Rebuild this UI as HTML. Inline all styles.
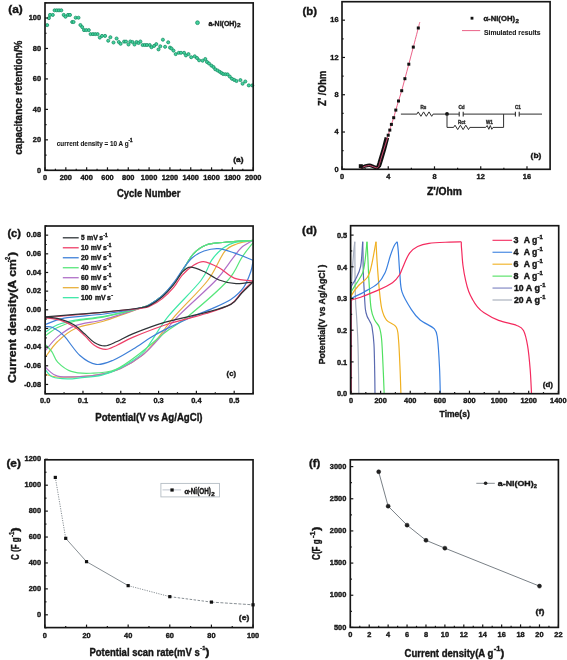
<!DOCTYPE html><html><head><meta charset="utf-8"><style>html,body{margin:0;padding:0;background:#fff;width:567px;height:660px;overflow:hidden}svg{display:block;will-change:transform}text{font-family:"Liberation Sans",sans-serif}</style></head><body>
<svg width="567" height="660" viewBox="0 0 567 660">
<rect width="567" height="660" fill="#fff"/>
<g fill="#44d29c" stroke="#138a62" stroke-width="0.75">
<circle cx="47.2" cy="25.1" r="1.55"/>
<circle cx="48.9" cy="18.1" r="1.55"/>
<circle cx="50" cy="14.9" r="1.55"/>
<circle cx="52.8" cy="14.9" r="1.55"/>
<circle cx="54.6" cy="10.3" r="1.55"/>
<circle cx="56.8" cy="10.3" r="1.55"/>
<circle cx="59" cy="10.3" r="1.55"/>
<circle cx="61.3" cy="10.3" r="1.55"/>
<circle cx="63.7" cy="14.9" r="1.55"/>
<circle cx="65.5" cy="16.7" r="1.55"/>
<circle cx="68" cy="14.9" r="1.55"/>
<circle cx="70" cy="14.9" r="1.55"/>
<circle cx="72.2" cy="22" r="1.55"/>
<circle cx="73.6" cy="22" r="1.55"/>
<circle cx="75.7" cy="17.7" r="1.55"/>
<circle cx="78.5" cy="17.7" r="1.55"/>
<circle cx="80.4" cy="25" r="1.55"/>
<circle cx="82.2" cy="27.1" r="1.55"/>
<circle cx="84" cy="30.1" r="1.55"/>
<circle cx="86.3" cy="30.1" r="1.55"/>
<circle cx="88.8" cy="30.1" r="1.55"/>
<circle cx="90.6" cy="34.1" r="1.55"/>
<circle cx="93" cy="34.1" r="1.55"/>
<circle cx="95.3" cy="34.1" r="1.55"/>
<circle cx="97.6" cy="34.1" r="1.55"/>
<circle cx="99.8" cy="37.6" r="1.55"/>
<circle cx="102" cy="35.9" r="1.55"/>
<circle cx="105.1" cy="35.9" r="1.55"/>
<circle cx="108.2" cy="40.7" r="1.55"/>
<circle cx="110.4" cy="37.2" r="1.55"/>
<circle cx="113.5" cy="42.5" r="1.55"/>
<circle cx="116.6" cy="38.5" r="1.55"/>
<circle cx="118.8" cy="42" r="1.55"/>
<circle cx="120.6" cy="43.8" r="1.55"/>
<circle cx="124.1" cy="41.6" r="1.55"/>
<circle cx="126" cy="41.6" r="1.55"/>
<circle cx="128.5" cy="44.5" r="1.55"/>
<circle cx="130.3" cy="41.5" r="1.55"/>
<circle cx="132.5" cy="42" r="1.55"/>
<circle cx="134.5" cy="44.5" r="1.55"/>
<circle cx="136.5" cy="42" r="1.55"/>
<circle cx="138.5" cy="43" r="1.55"/>
<circle cx="140.4" cy="41.5" r="1.55"/>
<circle cx="142.6" cy="45" r="1.55"/>
<circle cx="144.8" cy="45" r="1.55"/>
<circle cx="147" cy="45" r="1.55"/>
<circle cx="149.7" cy="45" r="1.55"/>
<circle cx="151.5" cy="47.2" r="1.55"/>
<circle cx="154.1" cy="45.9" r="1.55"/>
<circle cx="156.3" cy="44.1" r="1.55"/>
<circle cx="158.5" cy="49.4" r="1.55"/>
<circle cx="160.3" cy="46.3" r="1.55"/>
<circle cx="162.9" cy="39.7" r="1.55"/>
<circle cx="165.1" cy="46.8" r="1.55"/>
<circle cx="168.2" cy="42.3" r="1.55"/>
<circle cx="170" cy="47.6" r="1.55"/>
<circle cx="171.5" cy="48.5" r="1.55"/>
<circle cx="173.5" cy="50.6" r="1.55"/>
<circle cx="175.7" cy="54.1" r="1.55"/>
<circle cx="178.8" cy="52.8" r="1.55"/>
<circle cx="181" cy="52.8" r="1.55"/>
<circle cx="184.1" cy="52.8" r="1.55"/>
<circle cx="185.9" cy="55.4" r="1.55"/>
<circle cx="188.5" cy="54.1" r="1.55"/>
<circle cx="191.2" cy="57.2" r="1.55"/>
<circle cx="194.7" cy="56.3" r="1.55"/>
<circle cx="197" cy="58" r="1.55"/>
<circle cx="199.1" cy="60.3" r="1.55"/>
<circle cx="202.6" cy="60.7" r="1.55"/>
<circle cx="205.3" cy="59" r="1.55"/>
<circle cx="207" cy="62" r="1.55"/>
<circle cx="209" cy="63.5" r="1.55"/>
<circle cx="211.4" cy="65.6" r="1.55"/>
<circle cx="213.5" cy="67" r="1.55"/>
<circle cx="215.3" cy="69.3" r="1.55"/>
<circle cx="217.6" cy="70.5" r="1.55"/>
<circle cx="219.7" cy="71.8" r="1.55"/>
<circle cx="221.5" cy="73" r="1.55"/>
<circle cx="223.2" cy="74" r="1.55"/>
<circle cx="225.5" cy="74.2" r="1.55"/>
<circle cx="227.6" cy="74.4" r="1.55"/>
<circle cx="229.8" cy="76.6" r="1.55"/>
<circle cx="232" cy="78.8" r="1.55"/>
<circle cx="234.25" cy="79.9" r="1.55"/>
<circle cx="236.5" cy="81" r="1.55"/>
<circle cx="240.4" cy="80.1" r="1.55"/>
<circle cx="242.6" cy="83.7" r="1.55"/>
<circle cx="245.3" cy="81.5" r="1.55"/>
<circle cx="248.8" cy="85.4" r="1.55"/>
<circle cx="252.3" cy="85.4" r="1.55"/>
</g>
<rect x="45" y="2.9" width="208.2" height="167.4" fill="none" stroke="#161616" stroke-width="1.65"/>
<line x1="45" y1="170.3" x2="48" y2="170.3" stroke="#161616" stroke-width="1.2"/>
<line x1="45" y1="139.84" x2="48" y2="139.84" stroke="#161616" stroke-width="1.2"/>
<line x1="45" y1="109.38" x2="48" y2="109.38" stroke="#161616" stroke-width="1.2"/>
<line x1="45" y1="78.92" x2="48" y2="78.92" stroke="#161616" stroke-width="1.2"/>
<line x1="45" y1="48.46" x2="48" y2="48.46" stroke="#161616" stroke-width="1.2"/>
<line x1="45" y1="18" x2="48" y2="18" stroke="#161616" stroke-width="1.2"/>
<line x1="45" y1="155.07" x2="46.6" y2="155.07" stroke="#161616" stroke-width="1.2"/>
<line x1="45" y1="124.61" x2="46.6" y2="124.61" stroke="#161616" stroke-width="1.2"/>
<line x1="45" y1="94.15" x2="46.6" y2="94.15" stroke="#161616" stroke-width="1.2"/>
<line x1="45" y1="63.69" x2="46.6" y2="63.69" stroke="#161616" stroke-width="1.2"/>
<line x1="45" y1="33.23" x2="46.6" y2="33.23" stroke="#161616" stroke-width="1.2"/>
<line x1="45" y1="2.77" x2="46.6" y2="2.77" stroke="#161616" stroke-width="1.2"/>
<text x="41" y="172.5" font-size="7.4" font-weight="bold" text-anchor="end" fill="#161616" stroke="#161616" stroke-width="0.38">0</text>
<text x="41" y="142.04" font-size="7.4" font-weight="bold" text-anchor="end" fill="#161616" stroke="#161616" stroke-width="0.38">20</text>
<text x="41" y="111.58" font-size="7.4" font-weight="bold" text-anchor="end" fill="#161616" stroke="#161616" stroke-width="0.38">40</text>
<text x="41" y="81.12" font-size="7.4" font-weight="bold" text-anchor="end" fill="#161616" stroke="#161616" stroke-width="0.38">60</text>
<text x="41" y="50.66" font-size="7.4" font-weight="bold" text-anchor="end" fill="#161616" stroke="#161616" stroke-width="0.38">80</text>
<text x="41" y="20.2" font-size="7.4" font-weight="bold" text-anchor="end" fill="#161616" stroke="#161616" stroke-width="0.38">100</text>
<line x1="45" y1="170.3" x2="45" y2="167.3" stroke="#161616" stroke-width="1.2"/>
<line x1="65.82" y1="170.3" x2="65.82" y2="167.3" stroke="#161616" stroke-width="1.2"/>
<line x1="86.64" y1="170.3" x2="86.64" y2="167.3" stroke="#161616" stroke-width="1.2"/>
<line x1="107.46" y1="170.3" x2="107.46" y2="167.3" stroke="#161616" stroke-width="1.2"/>
<line x1="128.28" y1="170.3" x2="128.28" y2="167.3" stroke="#161616" stroke-width="1.2"/>
<line x1="149.1" y1="170.3" x2="149.1" y2="167.3" stroke="#161616" stroke-width="1.2"/>
<line x1="169.92" y1="170.3" x2="169.92" y2="167.3" stroke="#161616" stroke-width="1.2"/>
<line x1="190.74" y1="170.3" x2="190.74" y2="167.3" stroke="#161616" stroke-width="1.2"/>
<line x1="211.56" y1="170.3" x2="211.56" y2="167.3" stroke="#161616" stroke-width="1.2"/>
<line x1="232.38" y1="170.3" x2="232.38" y2="167.3" stroke="#161616" stroke-width="1.2"/>
<line x1="253.2" y1="170.3" x2="253.2" y2="167.3" stroke="#161616" stroke-width="1.2"/>
<line x1="55.41" y1="170.3" x2="55.41" y2="168.7" stroke="#161616" stroke-width="1.2"/>
<line x1="76.23" y1="170.3" x2="76.23" y2="168.7" stroke="#161616" stroke-width="1.2"/>
<line x1="97.05" y1="170.3" x2="97.05" y2="168.7" stroke="#161616" stroke-width="1.2"/>
<line x1="117.87" y1="170.3" x2="117.87" y2="168.7" stroke="#161616" stroke-width="1.2"/>
<line x1="138.69" y1="170.3" x2="138.69" y2="168.7" stroke="#161616" stroke-width="1.2"/>
<line x1="159.51" y1="170.3" x2="159.51" y2="168.7" stroke="#161616" stroke-width="1.2"/>
<line x1="180.33" y1="170.3" x2="180.33" y2="168.7" stroke="#161616" stroke-width="1.2"/>
<line x1="201.15" y1="170.3" x2="201.15" y2="168.7" stroke="#161616" stroke-width="1.2"/>
<line x1="221.97" y1="170.3" x2="221.97" y2="168.7" stroke="#161616" stroke-width="1.2"/>
<line x1="242.79" y1="170.3" x2="242.79" y2="168.7" stroke="#161616" stroke-width="1.2"/>
<text x="45" y="180.1" font-size="7.4" font-weight="bold" text-anchor="middle" fill="#161616" stroke="#161616" stroke-width="0.38">0</text>
<text x="65.82" y="180.1" font-size="7.4" font-weight="bold" text-anchor="middle" fill="#161616" stroke="#161616" stroke-width="0.38">200</text>
<text x="86.64" y="180.1" font-size="7.4" font-weight="bold" text-anchor="middle" fill="#161616" stroke="#161616" stroke-width="0.38">400</text>
<text x="107.46" y="180.1" font-size="7.4" font-weight="bold" text-anchor="middle" fill="#161616" stroke="#161616" stroke-width="0.38">600</text>
<text x="128.28" y="180.1" font-size="7.4" font-weight="bold" text-anchor="middle" fill="#161616" stroke="#161616" stroke-width="0.38">800</text>
<text x="149.1" y="180.1" font-size="7.4" font-weight="bold" text-anchor="middle" fill="#161616" stroke="#161616" stroke-width="0.38">1000</text>
<text x="169.92" y="180.1" font-size="7.4" font-weight="bold" text-anchor="middle" fill="#161616" stroke="#161616" stroke-width="0.38">1200</text>
<text x="190.74" y="180.1" font-size="7.4" font-weight="bold" text-anchor="middle" fill="#161616" stroke="#161616" stroke-width="0.38">1400</text>
<text x="211.56" y="180.1" font-size="7.4" font-weight="bold" text-anchor="middle" fill="#161616" stroke="#161616" stroke-width="0.38">1600</text>
<text x="232.38" y="180.1" font-size="7.4" font-weight="bold" text-anchor="middle" fill="#161616" stroke="#161616" stroke-width="0.38">1800</text>
<text x="253.2" y="180.1" font-size="7.4" font-weight="bold" text-anchor="middle" fill="#161616" stroke="#161616" stroke-width="0.38">2000</text>
<text x="8.2" y="12.5" font-size="11.1" font-weight="bold" text-anchor="start" fill="#161616" stroke="#161616" stroke-width="0.38" textLength="14.5" lengthAdjust="spacingAndGlyphs">(a)</text>
<g transform="translate(22.4,154.7) rotate(-90)">
<text x="0" y="0" font-size="10.3" font-weight="bold" fill="#161616" stroke="#161616" stroke-width="0.35" textLength="114" lengthAdjust="spacingAndGlyphs">capacitance retention/%</text>
</g>
<text x="117" y="196.6" font-size="10" font-weight="bold" text-anchor="start" fill="#161616" stroke="#161616" stroke-width="0.38" textLength="63.5" lengthAdjust="spacingAndGlyphs">Cycle Number</text>
<circle cx="197.5" cy="22.7" r="1.9" fill="#44d29c" stroke="#138a62" stroke-width="0.75"/>
<text x="208.4" y="25.8" font-size="7.8" font-weight="bold" text-anchor="start" fill="#161616" stroke="#161616" stroke-width="0.38" textLength="28.3" lengthAdjust="spacingAndGlyphs">a-Ni(OH)</text>
<text x="236.9" y="27.4" font-size="5.8" font-weight="bold" text-anchor="start" fill="#161616" stroke="#161616" stroke-width="0.38" textLength="3.6" lengthAdjust="spacingAndGlyphs">2</text>
<text x="56.8" y="146.4" font-size="6.9" font-weight="bold" text-anchor="start" fill="#161616" stroke="#161616" stroke-width="0.1" textLength="71.8" lengthAdjust="spacingAndGlyphs">current density = 10 A g</text>
<text x="128.5" y="142.4" font-size="4.8" font-weight="bold" text-anchor="start" fill="#161616" stroke="#161616" stroke-width="0.38" textLength="3.9" lengthAdjust="spacingAndGlyphs">-1</text>
<text x="233.3" y="161.8" font-size="7.4" font-weight="bold" text-anchor="start" fill="#161616" stroke="#161616" stroke-width="0.38" textLength="10.2" lengthAdjust="spacingAndGlyphs">(a)</text>
<rect x="342" y="1.7" width="208.1" height="167.6" fill="none" stroke="#161616" stroke-width="1.65"/>
<line x1="342" y1="169.3" x2="345" y2="169.3" stroke="#161616" stroke-width="1.2"/>
<line x1="342" y1="132.02" x2="345" y2="132.02" stroke="#161616" stroke-width="1.2"/>
<line x1="342" y1="94.74" x2="345" y2="94.74" stroke="#161616" stroke-width="1.2"/>
<line x1="342" y1="57.46" x2="345" y2="57.46" stroke="#161616" stroke-width="1.2"/>
<line x1="342" y1="20.18" x2="345" y2="20.18" stroke="#161616" stroke-width="1.2"/>
<line x1="342" y1="150.66" x2="343.6" y2="150.66" stroke="#161616" stroke-width="1.2"/>
<line x1="342" y1="113.38" x2="343.6" y2="113.38" stroke="#161616" stroke-width="1.2"/>
<line x1="342" y1="76.1" x2="343.6" y2="76.1" stroke="#161616" stroke-width="1.2"/>
<line x1="342" y1="38.82" x2="343.6" y2="38.82" stroke="#161616" stroke-width="1.2"/>
<text x="338.6" y="171.5" font-size="7.4" font-weight="bold" text-anchor="end" fill="#161616" stroke="#161616" stroke-width="0.38">0</text>
<text x="338.6" y="134.22" font-size="7.4" font-weight="bold" text-anchor="end" fill="#161616" stroke="#161616" stroke-width="0.38">4</text>
<text x="338.6" y="96.94" font-size="7.4" font-weight="bold" text-anchor="end" fill="#161616" stroke="#161616" stroke-width="0.38">8</text>
<text x="338.6" y="59.66" font-size="7.4" font-weight="bold" text-anchor="end" fill="#161616" stroke="#161616" stroke-width="0.38">12</text>
<text x="338.6" y="22.38" font-size="7.4" font-weight="bold" text-anchor="end" fill="#161616" stroke="#161616" stroke-width="0.38">16</text>
<line x1="342" y1="169.3" x2="342" y2="166.3" stroke="#161616" stroke-width="1.2"/>
<line x1="388.24" y1="169.3" x2="388.24" y2="166.3" stroke="#161616" stroke-width="1.2"/>
<line x1="434.49" y1="169.3" x2="434.49" y2="166.3" stroke="#161616" stroke-width="1.2"/>
<line x1="480.73" y1="169.3" x2="480.73" y2="166.3" stroke="#161616" stroke-width="1.2"/>
<line x1="526.98" y1="169.3" x2="526.98" y2="166.3" stroke="#161616" stroke-width="1.2"/>
<line x1="365.12" y1="169.3" x2="365.12" y2="167.7" stroke="#161616" stroke-width="1.2"/>
<line x1="411.37" y1="169.3" x2="411.37" y2="167.7" stroke="#161616" stroke-width="1.2"/>
<line x1="457.61" y1="169.3" x2="457.61" y2="167.7" stroke="#161616" stroke-width="1.2"/>
<line x1="503.85" y1="169.3" x2="503.85" y2="167.7" stroke="#161616" stroke-width="1.2"/>
<text x="342" y="178.6" font-size="7.4" font-weight="bold" text-anchor="middle" fill="#161616" stroke="#161616" stroke-width="0.38">0</text>
<text x="388.24" y="178.6" font-size="7.4" font-weight="bold" text-anchor="middle" fill="#161616" stroke="#161616" stroke-width="0.38">4</text>
<text x="434.49" y="178.6" font-size="7.4" font-weight="bold" text-anchor="middle" fill="#161616" stroke="#161616" stroke-width="0.38">8</text>
<text x="480.73" y="178.6" font-size="7.4" font-weight="bold" text-anchor="middle" fill="#161616" stroke="#161616" stroke-width="0.38">12</text>
<text x="526.98" y="178.6" font-size="7.4" font-weight="bold" text-anchor="middle" fill="#161616" stroke="#161616" stroke-width="0.38">16</text>
<text x="302.6" y="15.4" font-size="11.1" font-weight="bold" text-anchor="start" fill="#161616" stroke="#161616" stroke-width="0.38" textLength="14.5" lengthAdjust="spacingAndGlyphs">(b)</text>
<g transform="translate(326,105.9) rotate(-90)">
<text x="0" y="0" font-size="10.5" font-weight="bold" fill="#161616" stroke="#161616" stroke-width="0.35" textLength="35.1" lengthAdjust="spacingAndGlyphs">Z' /Ohm</text>
</g>
<text x="427" y="194.9" font-size="10" font-weight="bold" text-anchor="start" fill="#161616" stroke="#161616" stroke-width="0.38" textLength="35" lengthAdjust="spacingAndGlyphs">Z'/Ohm</text>
<text x="530.6" y="158.4" font-size="7.8" font-weight="bold" text-anchor="start" fill="#161616" stroke="#161616" stroke-width="0.38" textLength="10.8" lengthAdjust="spacingAndGlyphs">(b)</text>
<path d="M386.9,137.6 L384,149 L381.6,157 L379.8,163 L378.6,166.6" fill="none" stroke="#111" stroke-width="4.6" stroke-linecap="butt"/>
<path d="M379.2,165.5 C379.03,165.75 378.65,166.65 378.2,167 C377.75,167.35 377.28,167.67 376.5,167.6 C375.72,167.53 374.67,166.98 373.5,166.6 C372.33,166.22 370.83,165.42 369.5,165.3 C368.17,165.18 366.75,165.58 365.5,165.9 C364.25,166.22 362.87,166.88 362,167.2 C361.13,167.52 360.58,167.7 360.3,167.8" fill="none" stroke="#111" stroke-width="3.5" stroke-linecap="butt"/>
<path d="M419.8,22 C419.55,23 419.38,23.82 418.3,28 C417.22,32.18 414.88,41.07 413.3,47.1 C411.72,53.13 410.2,58.93 408.8,64.2 C407.4,69.47 406.08,74.28 404.9,78.7 C403.72,83.12 402.77,86.98 401.7,90.7 C400.63,94.42 399.48,97.77 398.5,101 C397.52,104.23 396.6,107.32 395.8,110.1 C395,112.88 394.43,115.32 393.7,117.7 C392.97,120.08 392.05,122.33 391.4,124.4 C390.75,126.47 390.33,128.3 389.8,130.1 C389.27,131.9 388.75,133.38 388.2,135.2 C387.65,137.02 387.2,138.7 386.5,141 C385.8,143.3 384.83,146.33 384,149 C383.17,151.67 382.23,154.58 381.5,157 C380.77,159.42 380.1,161.87 379.6,163.5 C379.1,165.13 379.02,166.08 378.5,166.8 C377.98,167.52 377.33,167.8 376.5,167.8 C375.67,167.8 374.67,167.17 373.5,166.8 C372.33,166.43 370.83,165.7 369.5,165.6 C368.17,165.5 366.75,165.87 365.5,166.2 C364.25,166.53 362.87,167.27 362,167.6 C361.13,167.93 360.58,168.1 360.3,168.2" fill="none" stroke="#e8507a" stroke-width="0.9"/>
<rect x="416.8" y="26.5" width="3.0" height="3.0" fill="#111"/>
<rect x="411.8" y="45.6" width="3.0" height="3.0" fill="#111"/>
<rect x="407.3" y="62.7" width="3.0" height="3.0" fill="#111"/>
<rect x="403.4" y="77.2" width="3.0" height="3.0" fill="#111"/>
<rect x="400.2" y="89.2" width="3.0" height="3.0" fill="#111"/>
<rect x="397" y="99.5" width="3.0" height="3.0" fill="#111"/>
<rect x="394.3" y="108.6" width="3.0" height="3.0" fill="#111"/>
<rect x="392.2" y="116.2" width="3.0" height="3.0" fill="#111"/>
<rect x="389.9" y="122.9" width="3.0" height="3.0" fill="#111"/>
<rect x="388.3" y="128.6" width="3.0" height="3.0" fill="#111"/>
<rect x="386.7" y="133.7" width="3.0" height="3.0" fill="#111"/>
<rect x="358.8" y="164.2" width="4.0" height="4.0" fill="#111"/>
<rect x="470.6" y="16.8" width="2.8" height="2.8" fill="#111"/>
<text x="483.4" y="21.1" font-size="7.8" font-weight="bold" text-anchor="start" fill="#161616" stroke="#161616" stroke-width="0.38" textLength="31.6" lengthAdjust="spacingAndGlyphs">α-Ni(OH)</text>
<text x="515.4" y="22.6" font-size="5.4" font-weight="bold" text-anchor="start" fill="#161616" stroke="#161616" stroke-width="0.38" textLength="3.4" lengthAdjust="spacingAndGlyphs">2</text>
<line x1="462" y1="30.6" x2="480.2" y2="30.6" stroke="#e8507a" stroke-width="0.9"/>
<text x="484" y="35" font-size="8" font-weight="bold" text-anchor="start" fill="#161616" stroke="#161616" stroke-width="0.1" textLength="56.6" lengthAdjust="spacingAndGlyphs">Simulated results</text>
<line x1="400.9" y1="114.1" x2="416.9" y2="114.1" stroke="#2e2e2e" stroke-width="1.0"/>
<polyline points="416.9,114.1 418.2,111.9 420.9,116.3 423.6,111.9 426.3,116.3 429.0,111.9 431.7,116.3 433.1,114.1" fill="none" stroke="#2e2e2e" stroke-width="1.0"/>
<line x1="433.1" y1="114.1" x2="459.2" y2="114.1" stroke="#2e2e2e" stroke-width="1.0"/>
<circle cx="447.0" cy="113.9" r="1.9" fill="#111"/>
<line x1="459.2" y1="111.8" x2="459.2" y2="116.4" stroke="#2e2e2e" stroke-width="1.1"/>
<line x1="463.2" y1="111.8" x2="463.2" y2="116.4" stroke="#2e2e2e" stroke-width="1.1"/>
<line x1="463.2" y1="114.1" x2="515.4" y2="114.1" stroke="#2e2e2e" stroke-width="1.0"/>
<line x1="515.4" y1="111.8" x2="515.4" y2="116.4" stroke="#2e2e2e" stroke-width="1.1"/>
<line x1="519.2" y1="111.8" x2="519.2" y2="116.4" stroke="#2e2e2e" stroke-width="1.1"/>
<line x1="519.2" y1="114.1" x2="542" y2="114.1" stroke="#2e2e2e" stroke-width="1.0"/>
<line x1="447" y1="114.1" x2="447" y2="127.4" stroke="#2e2e2e" stroke-width="1.0"/>
<line x1="447" y1="127.4" x2="453.6" y2="127.4" stroke="#2e2e2e" stroke-width="1.0"/>
<polyline points="453.6,127.4 455.0,125.2 457.7,129.6 460.4,125.2 463.1,129.6 465.8,125.2 468.5,129.6 469.8,127.4" fill="none" stroke="#2e2e2e" stroke-width="1.0"/>
<line x1="469.8" y1="127.4" x2="485.7" y2="127.4" stroke="#2e2e2e" stroke-width="1.0"/>
<polyline points="485.7,127.4 487.2,125.5 488.8,129.3 490.3,125.5 491.8,129.3 493.0,127.4" fill="none" stroke="#2e2e2e" stroke-width="1.0"/>
<line x1="493" y1="127.4" x2="503.6" y2="127.4" stroke="#2e2e2e" stroke-width="1.0"/>
<line x1="503.6" y1="114.1" x2="503.6" y2="127.4" stroke="#2e2e2e" stroke-width="1.0"/>
<text x="420.5" y="108.6" font-size="4.6" font-weight="bold" text-anchor="start" fill="#333" stroke="#333" stroke-width="0.38">Rs</text>
<text x="458.5" y="109.2" font-size="4.6" font-weight="bold" text-anchor="start" fill="#333" stroke="#333" stroke-width="0.38">Cd</text>
<text x="515" y="108.8" font-size="4.6" font-weight="bold" text-anchor="start" fill="#333" stroke="#333" stroke-width="0.38">C1</text>
<text x="458" y="123.5" font-size="4.6" font-weight="bold" text-anchor="start" fill="#333" stroke="#333" stroke-width="0.38">Rct</text>
<text x="486" y="123.5" font-size="4.6" font-weight="bold" text-anchor="start" fill="#333" stroke="#333" stroke-width="0.38">W1</text>
<clipPath id="cc"><rect x="45.15" y="226.0" width="207.95" height="167.8"/></clipPath>
<g clip-path="url(#cc)" fill="none" stroke-width="1.2">
<path d="M45.15,357.38 C47.23,354.74 52.59,346.34 57.63,341.52 C62.67,336.7 67.65,331.88 75.4,328.46 C83.15,325.04 93.23,324.42 104.13,321 C115.04,317.58 133.12,310.73 140.81,307.93 C148.5,305.13 146.67,306.22 150.26,304.2 C153.85,302.18 158.45,299.23 162.36,295.81 C166.27,292.38 170.24,288.03 173.7,283.68 C177.17,279.32 179.88,274.66 183.16,269.68 C186.43,264.71 189.52,257.94 193.37,253.82 C197.21,249.7 200.99,246.88 206.22,244.96 C211.45,243.03 216.93,243.03 224.75,242.25 C232.56,241.47 248.38,240.62 253.11,240.29" stroke="#e8b03c"/>
<path d="M253.11,240.29 C250.58,240.84 242.71,241.71 237.98,243.56 C233.25,245.41 229.79,245.24 224.75,251.39 C219.71,257.55 215.99,269.79 207.73,280.5 C199.48,291.22 183.85,305.66 175.22,315.68 C166.58,325.69 161.48,333.95 155.93,340.59 C150.39,347.23 147.8,350.85 141.94,355.52 C136.08,360.18 127.45,365.47 120.77,368.58 C114.09,371.69 108.67,372.82 101.87,374.18 C95.06,375.53 87.5,376.23 79.94,376.7 C72.37,377.16 62.29,377.4 56.49,376.98 C50.7,376.56 47.04,374.64 45.15,374.18" stroke="#e8b03c"/>
<path d="M45.15,350.85 C47.23,348.52 52.59,341.06 57.63,336.86 C62.67,332.66 67.65,328.55 75.4,325.66 C83.15,322.77 93.23,322.46 104.13,319.5 C115.04,316.55 133.12,310.48 140.81,307.93 C148.5,305.38 146.67,306.22 150.26,304.2 C153.85,302.18 158.45,299.23 162.36,295.81 C166.27,292.38 170.24,288.03 173.7,283.68 C177.17,279.32 179.88,274.66 183.16,269.68 C186.43,264.71 189.52,257.94 193.37,253.82 C197.21,249.7 200.99,246.88 206.22,244.96 C211.45,243.03 216.93,243.03 224.75,242.25 C232.56,241.47 248.38,240.62 253.11,240.29" stroke="#b070c8"/>
<path d="M253.11,240.29 C251.21,241.46 245.23,244.19 241.76,247.29 C238.3,250.38 236.66,253.32 232.31,258.86 C227.96,264.39 224.62,271.03 215.67,280.5 C206.72,289.97 188.39,305.66 178.62,315.68 C168.85,325.69 163.18,333.95 157.07,340.59 C150.95,347.23 147.99,350.85 141.94,355.52 C135.89,360.18 127.45,365.47 120.77,368.58 C114.09,371.69 108.67,372.82 101.87,374.18 C95.06,375.53 87.31,376.39 79.94,376.7 C72.56,377.01 62.67,376.93 57.63,376.04 C52.59,375.16 51.77,372.93 49.69,371.38 C47.61,369.82 45.91,367.49 45.15,366.71" stroke="#b070c8"/>
<path d="M45.15,332.19 C47.23,330.95 52.59,326.75 57.63,324.73 C62.67,322.71 67.65,321.46 75.4,320.06 C83.15,318.66 93.23,318.35 104.13,316.33 C115.04,314.31 133.12,309.96 140.81,307.93 C148.5,305.91 146.67,306.22 150.26,304.2 C153.85,302.18 158.45,299.23 162.36,295.81 C166.27,292.38 170.24,288.03 173.7,283.68 C177.17,279.32 179.88,274.66 183.16,269.68 C186.43,264.71 189.52,257.94 193.37,253.82 C197.21,249.7 200.99,246.88 206.22,244.96 C211.45,243.03 216.93,243.03 224.75,242.25 C232.56,241.47 248.38,240.62 253.11,240.29" stroke="#3ee8a8"/>
<path d="M253.11,240.29 C249.95,240.68 239.24,241.3 234.2,242.62 C229.16,243.95 226.64,245.27 222.86,248.22 C219.08,251.18 215.17,254.97 211.51,260.35 C207.86,265.73 208.05,271.28 200.93,280.5 C193.81,289.72 176.98,305.66 168.79,315.68 C160.6,325.69 156.25,334.26 151.77,340.59 C147.3,346.92 147.11,349.14 141.94,353.65 C136.78,358.16 127.45,364.07 120.77,367.65 C114.09,371.22 108.67,373.4 101.87,375.11 C95.06,376.82 85.61,377.29 79.94,377.91 C74.26,378.53 72.37,379 67.84,378.84 C63.3,378.69 56.49,378.53 52.71,376.98 C48.93,375.42 46.41,370.76 45.15,369.51" stroke="#3ee8a8"/>
<path d="M45.15,335.92 C47.23,334.52 52.59,330.01 57.63,327.53 C62.67,325.04 67.65,322.78 75.4,321 C83.15,319.21 93.23,318.97 104.13,316.8 C115.04,314.62 133.12,310.03 140.81,307.93 C148.5,305.83 146.67,306.22 150.26,304.2 C153.85,302.18 158.45,299.23 162.36,295.81 C166.27,292.38 170.24,288.03 173.7,283.68 C177.17,279.32 179.88,274.66 183.16,269.68 C186.43,264.71 189.52,257.94 193.37,253.82 C197.21,249.7 200.99,246.88 206.22,244.96 C211.45,243.03 216.93,243.03 224.75,242.25 C232.56,241.47 248.38,240.62 253.11,240.29" stroke="#58e67c"/>
<path d="M253.11,242.62 C251.21,245.11 245.98,251.24 241.76,257.55 C237.54,263.87 236.59,270.82 227.77,280.5 C218.95,290.19 199.23,307.06 188.83,315.68 C178.43,324.29 173.2,326.17 165.39,332.19 C157.57,338.21 150.26,345.57 141.94,351.79 C133.63,358 124.05,365.94 115.48,369.51 C106.91,373.09 97.89,372.93 90.52,373.24 C83.15,373.56 76.72,373.24 71.24,371.38 C65.76,369.51 60.84,365.31 57.63,362.05 C54.41,358.78 54.04,354.74 51.96,351.79 C49.88,348.83 46.28,345.57 45.15,344.32" stroke="#58e67c"/>
<path d="M45.15,324.73 C48.3,323.64 54.22,319.99 64.06,318.2 C73.89,316.41 91.34,315.71 104.13,314 C116.93,312.29 133.12,309.57 140.81,307.93 C148.5,306.3 146.67,306.22 150.26,304.2 C153.85,302.18 158.45,299.38 162.36,295.81 C166.27,292.23 170.24,287.25 173.7,282.74 C177.17,278.23 180.01,272.95 183.16,268.75 C186.31,264.55 189.14,260.51 192.61,257.55 C196.07,254.6 199.67,252.51 203.95,251.02 C208.24,249.53 213.28,248.28 218.32,248.6 C223.36,248.91 228.4,250.93 234.2,252.89 C240,254.85 249.95,259.11 253.11,260.35" stroke="#3f80d8"/>
<path d="M253.11,260.35 C252.73,262.22 252.41,267.04 250.84,271.55 C249.26,276.06 246.99,282.74 243.65,287.41 C240.31,292.07 236.15,295.96 230.8,299.54 C225.44,303.11 217.56,306.18 211.51,308.87 C205.46,311.56 202.19,312.26 194.5,315.68 C186.81,319.1 172.76,325.71 165.39,329.39 C158.01,333.08 155.62,334.52 150.26,337.79 C144.91,341.06 139.42,345.25 133.25,348.99 C127.07,352.72 119.38,357.62 113.21,360.18 C107.03,362.75 101.74,365.16 96.19,364.38 C90.65,363.6 85.29,360.26 79.94,355.52 C74.58,350.77 68.59,340.59 64.06,335.92 C59.52,331.26 55.86,329.08 52.71,327.53 C49.56,325.97 46.41,326.75 45.15,326.59" stroke="#3f80d8"/>
<path d="M45.15,317.73 C50.19,317.26 65.57,315.85 75.4,314.93 C85.23,314.01 93.23,313.31 104.13,312.23 C115.04,311.14 133.12,309.43 140.81,308.4 C148.5,307.37 146.67,307.7 150.26,306.07 C153.85,304.44 158.45,301.71 162.36,298.6 C166.27,295.49 170.43,291.3 173.7,287.41 C176.98,283.52 178.87,278.86 182.02,275.28 C185.17,271.7 189.02,268.23 192.61,265.95 C196.2,263.66 199.16,261.25 203.57,261.56 C207.99,261.87 213.97,265.06 219.08,267.81 C224.18,270.57 228.53,275.9 234.2,278.08 C239.87,280.26 249.95,280.41 253.11,280.88" stroke="#ee3f68"/>
<path d="M253.11,280.88 C251.21,282.74 245.48,288.19 241.76,292.07 C238.04,295.96 236.72,300.63 230.8,304.2 C224.87,307.78 216.56,310.27 206.22,313.53 C195.89,316.8 180.95,319.86 168.79,323.8 C156.63,327.73 141.88,333.56 133.25,337.14 C124.61,340.71 121.59,343.2 116.99,345.25 C112.39,347.31 109.43,349.45 105.65,349.45 C101.86,349.45 97.77,347.51 94.3,345.25 C90.84,343 88.25,339.03 84.85,335.92 C81.45,332.81 77.98,329.24 73.89,326.59 C69.79,323.95 65.06,321.54 60.27,320.06 C55.48,318.59 47.67,318.12 45.15,317.73" stroke="#ee3f68"/>
<path d="M45.15,316.8 C50.19,316.41 65.57,315.26 75.4,314.47 C85.23,313.67 93.23,313.16 104.13,312.04 C115.04,310.92 133.12,308.9 140.81,307.75 C148.5,306.6 146.67,306.97 150.26,305.13 C153.85,303.3 158.45,300.16 162.36,296.74 C166.27,293.32 170.43,288.65 173.7,284.61 C176.98,280.57 179.25,275.39 182.02,272.48 C184.79,269.57 186.69,267.32 190.34,267.16 C194,267.01 199.16,269.42 203.95,271.55 C208.74,273.68 213.72,277.92 219.08,279.94 C224.43,281.97 230.42,283.33 236.09,283.68 C241.76,284.02 250.27,282.28 253.11,282" stroke="#2f3438"/>
<path d="M253.11,282 C251.21,283.83 245.48,289.27 241.76,293.01 C238.04,296.74 236.72,301.15 230.8,304.39 C224.87,307.62 217.12,309.46 206.22,312.41 C195.32,315.37 177.55,318.59 165.39,322.12 C153.22,325.65 141.31,330.36 133.25,333.59 C125.18,336.83 121.72,339.47 116.99,341.52 C112.26,343.57 108.67,345.75 104.89,345.91 C101.11,346.06 97.64,344.43 94.3,342.46 C90.96,340.48 88.25,337.01 84.85,334.06 C81.45,331.1 77.98,327.22 73.89,324.73 C69.79,322.24 65.06,320.45 60.27,319.13 C55.48,317.81 47.67,317.19 45.15,316.8" stroke="#2f3438"/>
</g>
<rect x="45.15" y="226" width="207.95" height="167.8" fill="none" stroke="#161616" stroke-width="1.65"/>
<line x1="45.15" y1="384.44" x2="48.15" y2="384.44" stroke="#161616" stroke-width="1.2"/>
<line x1="45.15" y1="365.78" x2="48.15" y2="365.78" stroke="#161616" stroke-width="1.2"/>
<line x1="45.15" y1="347.12" x2="48.15" y2="347.12" stroke="#161616" stroke-width="1.2"/>
<line x1="45.15" y1="328.46" x2="48.15" y2="328.46" stroke="#161616" stroke-width="1.2"/>
<line x1="45.15" y1="309.8" x2="48.15" y2="309.8" stroke="#161616" stroke-width="1.2"/>
<line x1="45.15" y1="291.14" x2="48.15" y2="291.14" stroke="#161616" stroke-width="1.2"/>
<line x1="45.15" y1="272.48" x2="48.15" y2="272.48" stroke="#161616" stroke-width="1.2"/>
<line x1="45.15" y1="253.82" x2="48.15" y2="253.82" stroke="#161616" stroke-width="1.2"/>
<line x1="45.15" y1="235.16" x2="48.15" y2="235.16" stroke="#161616" stroke-width="1.2"/>
<line x1="45.15" y1="393.77" x2="46.75" y2="393.77" stroke="#161616" stroke-width="1.2"/>
<line x1="45.15" y1="375.11" x2="46.75" y2="375.11" stroke="#161616" stroke-width="1.2"/>
<line x1="45.15" y1="356.45" x2="46.75" y2="356.45" stroke="#161616" stroke-width="1.2"/>
<line x1="45.15" y1="337.79" x2="46.75" y2="337.79" stroke="#161616" stroke-width="1.2"/>
<line x1="45.15" y1="319.13" x2="46.75" y2="319.13" stroke="#161616" stroke-width="1.2"/>
<line x1="45.15" y1="300.47" x2="46.75" y2="300.47" stroke="#161616" stroke-width="1.2"/>
<line x1="45.15" y1="281.81" x2="46.75" y2="281.81" stroke="#161616" stroke-width="1.2"/>
<line x1="45.15" y1="263.15" x2="46.75" y2="263.15" stroke="#161616" stroke-width="1.2"/>
<line x1="45.15" y1="244.49" x2="46.75" y2="244.49" stroke="#161616" stroke-width="1.2"/>
<line x1="45.15" y1="225.83" x2="46.75" y2="225.83" stroke="#161616" stroke-width="1.2"/>
<text x="41" y="386.64" font-size="7.4" font-weight="bold" text-anchor="end" fill="#161616" stroke="#161616" stroke-width="0.38">-0.08</text>
<text x="41" y="367.98" font-size="7.4" font-weight="bold" text-anchor="end" fill="#161616" stroke="#161616" stroke-width="0.38">-0.06</text>
<text x="41" y="349.32" font-size="7.4" font-weight="bold" text-anchor="end" fill="#161616" stroke="#161616" stroke-width="0.38">-0.04</text>
<text x="41" y="330.66" font-size="7.4" font-weight="bold" text-anchor="end" fill="#161616" stroke="#161616" stroke-width="0.38">-0.02</text>
<text x="41" y="312" font-size="7.4" font-weight="bold" text-anchor="end" fill="#161616" stroke="#161616" stroke-width="0.38">0.00</text>
<text x="41" y="293.34" font-size="7.4" font-weight="bold" text-anchor="end" fill="#161616" stroke="#161616" stroke-width="0.38">0.02</text>
<text x="41" y="274.68" font-size="7.4" font-weight="bold" text-anchor="end" fill="#161616" stroke="#161616" stroke-width="0.38">0.04</text>
<text x="41" y="256.02" font-size="7.4" font-weight="bold" text-anchor="end" fill="#161616" stroke="#161616" stroke-width="0.38">0.06</text>
<text x="41" y="237.36" font-size="7.4" font-weight="bold" text-anchor="end" fill="#161616" stroke="#161616" stroke-width="0.38">0.08</text>
<line x1="45.15" y1="393.8" x2="45.15" y2="390.8" stroke="#161616" stroke-width="1.2"/>
<line x1="82.96" y1="393.8" x2="82.96" y2="390.8" stroke="#161616" stroke-width="1.2"/>
<line x1="120.77" y1="393.8" x2="120.77" y2="390.8" stroke="#161616" stroke-width="1.2"/>
<line x1="158.58" y1="393.8" x2="158.58" y2="390.8" stroke="#161616" stroke-width="1.2"/>
<line x1="196.39" y1="393.8" x2="196.39" y2="390.8" stroke="#161616" stroke-width="1.2"/>
<line x1="234.2" y1="393.8" x2="234.2" y2="390.8" stroke="#161616" stroke-width="1.2"/>
<line x1="64.06" y1="393.8" x2="64.06" y2="392.2" stroke="#161616" stroke-width="1.2"/>
<line x1="101.87" y1="393.8" x2="101.87" y2="392.2" stroke="#161616" stroke-width="1.2"/>
<line x1="139.68" y1="393.8" x2="139.68" y2="392.2" stroke="#161616" stroke-width="1.2"/>
<line x1="177.49" y1="393.8" x2="177.49" y2="392.2" stroke="#161616" stroke-width="1.2"/>
<line x1="215.3" y1="393.8" x2="215.3" y2="392.2" stroke="#161616" stroke-width="1.2"/>
<line x1="253.11" y1="393.8" x2="253.11" y2="392.2" stroke="#161616" stroke-width="1.2"/>
<text x="45.15" y="403.3" font-size="7.4" font-weight="bold" text-anchor="middle" fill="#161616" stroke="#161616" stroke-width="0.38">0.0</text>
<text x="82.96" y="403.3" font-size="7.4" font-weight="bold" text-anchor="middle" fill="#161616" stroke="#161616" stroke-width="0.38">0.1</text>
<text x="120.77" y="403.3" font-size="7.4" font-weight="bold" text-anchor="middle" fill="#161616" stroke="#161616" stroke-width="0.38">0.2</text>
<text x="158.58" y="403.3" font-size="7.4" font-weight="bold" text-anchor="middle" fill="#161616" stroke="#161616" stroke-width="0.38">0.3</text>
<text x="196.39" y="403.3" font-size="7.4" font-weight="bold" text-anchor="middle" fill="#161616" stroke="#161616" stroke-width="0.38">0.4</text>
<text x="234.2" y="403.3" font-size="7.4" font-weight="bold" text-anchor="middle" fill="#161616" stroke="#161616" stroke-width="0.38">0.5</text>
<text x="7.4" y="236.6" font-size="11.1" font-weight="bold" text-anchor="start" fill="#161616" stroke="#161616" stroke-width="0.38" textLength="13.7" lengthAdjust="spacingAndGlyphs">(c)</text>
<g transform="translate(15.8,383) rotate(-90)">
<text x="0" y="0" font-size="11.4" font-weight="bold" fill="#161616" stroke="#161616" stroke-width="0.35" textLength="123.8" lengthAdjust="spacingAndGlyphs">Current density(A cm</text>
<text x="121" y="-5.6" font-size="6.4" font-weight="bold" fill="#161616" stroke="#161616" stroke-width="0.35" textLength="5.2" lengthAdjust="spacingAndGlyphs">-2</text>
<text x="126.8" y="0" font-size="11.4" font-weight="bold" fill="#161616" stroke="#161616" stroke-width="0.35" textLength="4.4" lengthAdjust="spacingAndGlyphs">)</text>
</g>
<text x="95.3" y="420.5" font-size="10.8" font-weight="bold" text-anchor="start" fill="#161616" stroke="#161616" stroke-width="0.38" textLength="107.3" lengthAdjust="spacingAndGlyphs">Potential(V vs Ag/AgCl)</text>
<text x="226.6" y="376.3" font-size="7.6" font-weight="bold" text-anchor="start" fill="#161616" stroke="#161616" stroke-width="0.38" textLength="9.4" lengthAdjust="spacingAndGlyphs">(c)</text>
<line x1="62.8" y1="237.8" x2="78.7" y2="237.8" stroke="#2f3438" stroke-width="1.3"/>
<text x="81" y="240.4" font-size="7.2" font-weight="bold" text-anchor="start" fill="#161616" stroke="#161616" stroke-width="0.38" textLength="3.6" lengthAdjust="spacingAndGlyphs">5</text>
<text x="87" y="240.4" font-size="7.2" font-weight="bold" text-anchor="start" fill="#161616" stroke="#161616" stroke-width="0.38" textLength="10.8" lengthAdjust="spacingAndGlyphs">mV</text>
<text x="99.2" y="240.4" font-size="7.2" font-weight="bold" text-anchor="start" fill="#161616" stroke="#161616" stroke-width="0.38" textLength="3.8" lengthAdjust="spacingAndGlyphs">s</text>
<text x="103.4" y="237.2" font-size="4.6" font-weight="bold" text-anchor="start" fill="#161616" stroke="#161616" stroke-width="0.38" textLength="4.2" lengthAdjust="spacingAndGlyphs">-1</text>
<line x1="62.8" y1="247.78" x2="78.7" y2="247.78" stroke="#ee3f68" stroke-width="1.3"/>
<text x="81" y="250.38" font-size="7.2" font-weight="bold" text-anchor="start" fill="#161616" stroke="#161616" stroke-width="0.38" textLength="7.7" lengthAdjust="spacingAndGlyphs">10</text>
<text x="90.7" y="250.38" font-size="7.2" font-weight="bold" text-anchor="start" fill="#161616" stroke="#161616" stroke-width="0.38" textLength="10.8" lengthAdjust="spacingAndGlyphs">mV</text>
<text x="102.9" y="250.38" font-size="7.2" font-weight="bold" text-anchor="start" fill="#161616" stroke="#161616" stroke-width="0.38" textLength="3.8" lengthAdjust="spacingAndGlyphs">s</text>
<text x="107.1" y="247.18" font-size="4.6" font-weight="bold" text-anchor="start" fill="#161616" stroke="#161616" stroke-width="0.38" textLength="4.2" lengthAdjust="spacingAndGlyphs">-1</text>
<line x1="62.8" y1="257.76" x2="78.7" y2="257.76" stroke="#3f80d8" stroke-width="1.3"/>
<text x="81" y="260.36" font-size="7.2" font-weight="bold" text-anchor="start" fill="#161616" stroke="#161616" stroke-width="0.38" textLength="7.7" lengthAdjust="spacingAndGlyphs">20</text>
<text x="90.7" y="260.36" font-size="7.2" font-weight="bold" text-anchor="start" fill="#161616" stroke="#161616" stroke-width="0.38" textLength="10.8" lengthAdjust="spacingAndGlyphs">mV</text>
<text x="102.9" y="260.36" font-size="7.2" font-weight="bold" text-anchor="start" fill="#161616" stroke="#161616" stroke-width="0.38" textLength="3.8" lengthAdjust="spacingAndGlyphs">s</text>
<text x="107.1" y="257.16" font-size="4.6" font-weight="bold" text-anchor="start" fill="#161616" stroke="#161616" stroke-width="0.38" textLength="4.2" lengthAdjust="spacingAndGlyphs">-1</text>
<line x1="62.8" y1="267.74" x2="78.7" y2="267.74" stroke="#58e67c" stroke-width="1.3"/>
<text x="81" y="270.34" font-size="7.2" font-weight="bold" text-anchor="start" fill="#161616" stroke="#161616" stroke-width="0.38" textLength="7.7" lengthAdjust="spacingAndGlyphs">40</text>
<text x="90.7" y="270.34" font-size="7.2" font-weight="bold" text-anchor="start" fill="#161616" stroke="#161616" stroke-width="0.38" textLength="10.8" lengthAdjust="spacingAndGlyphs">mV</text>
<text x="102.9" y="270.34" font-size="7.2" font-weight="bold" text-anchor="start" fill="#161616" stroke="#161616" stroke-width="0.38" textLength="3.8" lengthAdjust="spacingAndGlyphs">s</text>
<text x="107.1" y="267.14" font-size="4.6" font-weight="bold" text-anchor="start" fill="#161616" stroke="#161616" stroke-width="0.38" textLength="4.2" lengthAdjust="spacingAndGlyphs">-1</text>
<line x1="62.8" y1="277.72" x2="78.7" y2="277.72" stroke="#b070c8" stroke-width="1.3"/>
<text x="81" y="280.32" font-size="7.2" font-weight="bold" text-anchor="start" fill="#161616" stroke="#161616" stroke-width="0.38" textLength="7.7" lengthAdjust="spacingAndGlyphs">60</text>
<text x="90.7" y="280.32" font-size="7.2" font-weight="bold" text-anchor="start" fill="#161616" stroke="#161616" stroke-width="0.38" textLength="10.8" lengthAdjust="spacingAndGlyphs">mV</text>
<text x="102.9" y="280.32" font-size="7.2" font-weight="bold" text-anchor="start" fill="#161616" stroke="#161616" stroke-width="0.38" textLength="3.8" lengthAdjust="spacingAndGlyphs">s</text>
<text x="107.1" y="277.12" font-size="4.6" font-weight="bold" text-anchor="start" fill="#161616" stroke="#161616" stroke-width="0.38" textLength="4.2" lengthAdjust="spacingAndGlyphs">-1</text>
<line x1="62.8" y1="287.7" x2="78.7" y2="287.7" stroke="#e8b03c" stroke-width="1.3"/>
<text x="81" y="290.3" font-size="7.2" font-weight="bold" text-anchor="start" fill="#161616" stroke="#161616" stroke-width="0.38" textLength="7.7" lengthAdjust="spacingAndGlyphs">80</text>
<text x="90.7" y="290.3" font-size="7.2" font-weight="bold" text-anchor="start" fill="#161616" stroke="#161616" stroke-width="0.38" textLength="10.8" lengthAdjust="spacingAndGlyphs">mV</text>
<text x="102.9" y="290.3" font-size="7.2" font-weight="bold" text-anchor="start" fill="#161616" stroke="#161616" stroke-width="0.38" textLength="3.8" lengthAdjust="spacingAndGlyphs">s</text>
<text x="107.1" y="287.1" font-size="4.6" font-weight="bold" text-anchor="start" fill="#161616" stroke="#161616" stroke-width="0.38" textLength="4.2" lengthAdjust="spacingAndGlyphs">-1</text>
<line x1="62.8" y1="297.68" x2="78.7" y2="297.68" stroke="#3ee8a8" stroke-width="1.3"/>
<text x="81" y="300.28" font-size="7.2" font-weight="bold" text-anchor="start" fill="#161616" stroke="#161616" stroke-width="0.38" textLength="11.4" lengthAdjust="spacingAndGlyphs">100</text>
<text x="94.9" y="300.28" font-size="7.2" font-weight="bold" text-anchor="start" fill="#161616" stroke="#161616" stroke-width="0.38" textLength="10.8" lengthAdjust="spacingAndGlyphs">mV</text>
<text x="107.1" y="300.28" font-size="7.2" font-weight="bold" text-anchor="start" fill="#161616" stroke="#161616" stroke-width="0.38" textLength="3.8" lengthAdjust="spacingAndGlyphs">s</text>
<text x="111.3" y="297.08" font-size="4.6" font-weight="bold" text-anchor="start" fill="#161616" stroke="#161616" stroke-width="0.38" textLength="1.8" lengthAdjust="spacingAndGlyphs">-</text>
<clipPath id="cd"><rect x="350.6" y="225.7" width="208.10000000000002" height="168.0"/></clipPath>
<g clip-path="url(#cd)" fill="none" stroke-width="1.2">
<path d="M351,393.6 L351,295.33" stroke="#a8b0c0"/>
<path d="M351,295.33 C351.1,293.22 351.3,287.93 351.59,282.65 C351.89,277.37 352.38,269.18 352.78,263.63 C353.17,258.08 353.63,253.01 353.96,249.37 C354.3,245.72 354.65,243.03 354.79,241.76" stroke="#a8b0c0"/>
<path d="M354.79,241.76 C354.81,244.87 354.86,253.12 354.92,260.46 C354.98,267.8 355.01,278.42 355.15,285.82 C355.28,293.22 355.52,299.98 355.74,304.84 C355.96,309.7 356.16,309.7 356.48,314.98 C356.8,320.27 357.37,329.78 357.66,336.54 C357.96,343.3 358.06,346.05 358.26,355.56 C358.45,365.07 358.75,387.26 358.85,393.6" stroke="#a8b0c0"/>
<path d="M351,393.6 L351,295.33" stroke="#5a6ab0"/>
<path d="M351,295.33 C351.07,293.85 350.7,289.1 351.44,286.45 C352.18,283.81 353.91,282.81 355.44,279.48 C356.97,276.15 359.42,272.77 360.62,266.48 C361.83,260.2 362.35,245.88 362.7,241.76" stroke="#5a6ab0"/>
<path d="M362.7,241.76 C362.75,243.82 362.89,249.1 362.99,254.12 C363.09,259.14 363.07,265.37 363.29,271.87 C363.51,278.37 363.98,286.93 364.33,293.11 C364.67,299.29 364.92,305.16 365.36,308.96 C365.81,312.77 366.18,313.72 366.99,315.94 C367.81,318.15 369.41,320.43 370.25,322.28 C371.09,324.12 371.41,323.38 372.03,327.03 C372.64,330.68 373.51,336.75 373.95,344.15 C374.4,351.54 374.52,363.17 374.69,371.41 C374.86,379.65 374.94,389.9 374.99,393.6" stroke="#5a6ab0"/>
<path d="M351,393.6 L351,295.33" stroke="#50e060"/>
<path d="M351,295.33 C351.07,294.7 350.46,293.64 351.44,291.53 C352.43,289.41 355.05,285.77 356.92,282.65 C358.8,279.53 361.34,276.52 362.7,272.82 C364.05,269.12 364.35,265.64 365.07,260.46 C365.78,255.28 366.67,244.87 366.99,241.76" stroke="#50e060"/>
<path d="M366.99,241.76 C367.08,243.24 367.18,243.82 367.52,250.63 C367.87,257.45 368.46,272.93 369.06,282.65 C369.67,292.37 370.2,302.73 371.14,308.96 C372.08,315.2 373.33,317.04 374.69,320.06 C376.05,323.07 378.12,323.75 379.28,327.03 C380.44,330.31 380.98,332.31 381.65,339.71 C382.32,347.11 382.86,362.43 383.28,371.41 C383.7,380.39 384.02,389.9 384.17,393.6" stroke="#50e060"/>
<path d="M351,393.6 L351,298.5" stroke="#f0b020"/>
<path d="M351,298.5 C351.07,297.97 350.19,297.5 351.44,295.33 C352.7,293.16 355.89,288.51 358.55,285.5 C361.22,282.49 365.31,280.43 367.44,277.26 C369.56,274.09 369.85,272.4 371.29,266.48 C372.72,260.57 375.23,245.88 376.02,241.76" stroke="#f0b020"/>
<path d="M376.02,241.76 C376.2,244.98 376.54,253.43 377.06,261.09 C377.58,268.75 378.34,279.74 379.13,287.72 C379.92,295.7 380.56,303.57 381.8,308.96 C383.03,314.35 384.14,317.04 386.54,320.06 C388.93,323.07 394.16,323.75 396.16,327.03 C398.16,330.31 397.86,332.31 398.53,339.71 C399.2,347.11 399.76,362.43 400.16,371.41 C400.55,380.39 400.78,389.9 400.9,393.6" stroke="#f0b020"/>
<path d="M351,393.6 L351,301.67" stroke="#3a80e0"/>
<path d="M351,301.67 C351.07,301.14 349.32,300.08 351.44,298.5 C353.57,296.92 359.37,294.64 363.73,292.16 C368.1,289.68 374.1,286.82 377.65,283.6 C381.21,280.38 382.96,277.42 385.06,272.82 C387.15,268.23 388.76,260.46 390.24,256.02 C391.72,251.58 392.78,248.57 393.94,246.2 C395.1,243.82 396.65,242.5 397.2,241.76" stroke="#3a80e0"/>
<path d="M397.2,241.76 C397.37,243.24 397.79,245.24 398.23,250.63 C398.68,256.02 399.22,267.17 399.86,274.09 C400.5,281.01 400.16,286.24 402.08,292.16 C404.01,298.08 408.4,304.95 411.41,309.6 C414.42,314.24 416.32,316.83 420.15,320.06 C423.97,323.28 431.45,325.66 434.36,328.93 C437.28,332.21 436.76,333.16 437.62,339.71 C438.48,346.26 439.1,359.26 439.55,368.24 C439.99,377.22 440.16,389.37 440.29,393.6" stroke="#3a80e0"/>
<path d="M351,393.6 L351,301.67" stroke="#f42a5e"/>
<path d="M351,301.67 C351.1,301.41 349.99,300.82 351.59,300.09 C353.2,299.35 356.48,298.76 360.62,297.23 C364.77,295.7 371.16,293.32 376.47,290.89 C381.77,288.46 388.63,285.29 392.46,282.65 C396.28,280.01 397.44,278.21 399.42,275.04 C401.39,271.87 402.58,267.33 404.31,263.63 C406.03,259.93 407.56,255.71 409.78,252.85 C412,250 414.42,248.1 417.63,246.51 C420.84,244.93 423.7,244.08 429.03,243.34 C434.36,242.6 444.25,242.34 449.61,242.07 C454.98,241.81 459.3,241.81 461.24,241.76" stroke="#f42a5e"/>
<path d="M461.24,241.76 C461.26,242.5 461.3,244.66 461.39,246.2 C461.47,247.73 461.5,247.78 461.76,250.95 C462.02,254.12 462.3,260.3 462.94,265.22 C463.58,270.13 464.64,276.05 465.61,280.43 C466.57,284.82 467.56,288.36 468.72,291.53 C469.88,294.7 471.21,297.02 472.57,299.45 C473.92,301.88 475.01,303.94 476.86,306.11 C478.71,308.27 480.04,310.07 483.67,312.45 C487.3,314.83 493.12,318.21 498.63,320.37 C504.13,322.54 512.54,323.75 516.69,325.45 C520.84,327.14 521.68,327.08 523.5,330.52 C525.33,333.95 526.54,339.6 527.65,346.05 C528.76,352.5 529.52,361.27 530.16,369.19 C530.81,377.12 531.28,389.53 531.5,393.6" stroke="#f42a5e"/>
</g>
<rect x="350.6" y="225.7" width="208.1" height="168" fill="none" stroke="#161616" stroke-width="1.65"/>
<line x1="350.6" y1="393.6" x2="353.6" y2="393.6" stroke="#161616" stroke-width="1.2"/>
<line x1="350.6" y1="361.9" x2="353.6" y2="361.9" stroke="#161616" stroke-width="1.2"/>
<line x1="350.6" y1="330.2" x2="353.6" y2="330.2" stroke="#161616" stroke-width="1.2"/>
<line x1="350.6" y1="298.5" x2="353.6" y2="298.5" stroke="#161616" stroke-width="1.2"/>
<line x1="350.6" y1="266.8" x2="353.6" y2="266.8" stroke="#161616" stroke-width="1.2"/>
<line x1="350.6" y1="235.1" x2="353.6" y2="235.1" stroke="#161616" stroke-width="1.2"/>
<line x1="350.6" y1="377.75" x2="352.2" y2="377.75" stroke="#161616" stroke-width="1.2"/>
<line x1="350.6" y1="346.05" x2="352.2" y2="346.05" stroke="#161616" stroke-width="1.2"/>
<line x1="350.6" y1="314.35" x2="352.2" y2="314.35" stroke="#161616" stroke-width="1.2"/>
<line x1="350.6" y1="282.65" x2="352.2" y2="282.65" stroke="#161616" stroke-width="1.2"/>
<line x1="350.6" y1="250.95" x2="352.2" y2="250.95" stroke="#161616" stroke-width="1.2"/>
<text x="347.2" y="396.3" font-size="7.4" font-weight="bold" text-anchor="end" fill="#161616" stroke="#161616" stroke-width="0.38">0.0</text>
<text x="347.2" y="364.6" font-size="7.4" font-weight="bold" text-anchor="end" fill="#161616" stroke="#161616" stroke-width="0.38">0.1</text>
<text x="347.2" y="332.9" font-size="7.4" font-weight="bold" text-anchor="end" fill="#161616" stroke="#161616" stroke-width="0.38">0.2</text>
<text x="347.2" y="301.2" font-size="7.4" font-weight="bold" text-anchor="end" fill="#161616" stroke="#161616" stroke-width="0.38">0.3</text>
<text x="347.2" y="269.5" font-size="7.4" font-weight="bold" text-anchor="end" fill="#161616" stroke="#161616" stroke-width="0.38">0.4</text>
<text x="347.2" y="237.8" font-size="7.4" font-weight="bold" text-anchor="end" fill="#161616" stroke="#161616" stroke-width="0.38">0.5</text>
<line x1="351" y1="393.7" x2="351" y2="390.7" stroke="#161616" stroke-width="1.2"/>
<line x1="380.61" y1="393.7" x2="380.61" y2="390.7" stroke="#161616" stroke-width="1.2"/>
<line x1="410.23" y1="393.7" x2="410.23" y2="390.7" stroke="#161616" stroke-width="1.2"/>
<line x1="439.84" y1="393.7" x2="439.84" y2="390.7" stroke="#161616" stroke-width="1.2"/>
<line x1="469.46" y1="393.7" x2="469.46" y2="390.7" stroke="#161616" stroke-width="1.2"/>
<line x1="499.07" y1="393.7" x2="499.07" y2="390.7" stroke="#161616" stroke-width="1.2"/>
<line x1="528.68" y1="393.7" x2="528.68" y2="390.7" stroke="#161616" stroke-width="1.2"/>
<line x1="558.3" y1="393.7" x2="558.3" y2="390.7" stroke="#161616" stroke-width="1.2"/>
<line x1="365.81" y1="393.7" x2="365.81" y2="392.1" stroke="#161616" stroke-width="1.2"/>
<line x1="395.42" y1="393.7" x2="395.42" y2="392.1" stroke="#161616" stroke-width="1.2"/>
<line x1="425.03" y1="393.7" x2="425.03" y2="392.1" stroke="#161616" stroke-width="1.2"/>
<line x1="454.65" y1="393.7" x2="454.65" y2="392.1" stroke="#161616" stroke-width="1.2"/>
<line x1="484.26" y1="393.7" x2="484.26" y2="392.1" stroke="#161616" stroke-width="1.2"/>
<line x1="513.88" y1="393.7" x2="513.88" y2="392.1" stroke="#161616" stroke-width="1.2"/>
<line x1="543.49" y1="393.7" x2="543.49" y2="392.1" stroke="#161616" stroke-width="1.2"/>
<text x="351" y="403.1" font-size="7.4" font-weight="bold" text-anchor="middle" fill="#161616" stroke="#161616" stroke-width="0.38">0</text>
<text x="380.61" y="403.1" font-size="7.4" font-weight="bold" text-anchor="middle" fill="#161616" stroke="#161616" stroke-width="0.38">200</text>
<text x="410.23" y="403.1" font-size="7.4" font-weight="bold" text-anchor="middle" fill="#161616" stroke="#161616" stroke-width="0.38">400</text>
<text x="439.84" y="403.1" font-size="7.4" font-weight="bold" text-anchor="middle" fill="#161616" stroke="#161616" stroke-width="0.38">600</text>
<text x="469.46" y="403.1" font-size="7.4" font-weight="bold" text-anchor="middle" fill="#161616" stroke="#161616" stroke-width="0.38">800</text>
<text x="499.07" y="403.1" font-size="7.4" font-weight="bold" text-anchor="middle" fill="#161616" stroke="#161616" stroke-width="0.38">1000</text>
<text x="528.68" y="403.1" font-size="7.4" font-weight="bold" text-anchor="middle" fill="#161616" stroke="#161616" stroke-width="0.38">1200</text>
<text x="558.3" y="403.1" font-size="7.4" font-weight="bold" text-anchor="middle" fill="#161616" stroke="#161616" stroke-width="0.38">1400</text>
<text x="302.1" y="233.6" font-size="11.1" font-weight="bold" text-anchor="start" fill="#161616" stroke="#161616" stroke-width="0.38" textLength="14.8" lengthAdjust="spacingAndGlyphs">(d)</text>
<g transform="translate(325.1,364.3) rotate(-90)">
<text x="0" y="0" font-size="9" font-weight="bold" fill="#161616" stroke="#161616" stroke-width="0.35" textLength="99.7" lengthAdjust="spacingAndGlyphs">Potential(V vs Ag/AgCl )</text>
</g>
<text x="439.6" y="417.2" font-size="9" font-weight="bold" text-anchor="start" fill="#161616" stroke="#161616" stroke-width="0.38" textLength="30.2" lengthAdjust="spacingAndGlyphs">Time(s)</text>
<text x="542.8" y="386.9" font-size="7.8" font-weight="bold" text-anchor="start" fill="#161616" stroke="#161616" stroke-width="0.38" textLength="10.2" lengthAdjust="spacingAndGlyphs">(d)</text>
<line x1="492.5" y1="240.3" x2="512.1" y2="240.3" stroke="#f42a5e" stroke-width="1.1"/>
<text x="513.6" y="243.2" font-size="8.2" font-weight="bold" text-anchor="start" fill="#161616" stroke="#161616" stroke-width="0.38" textLength="5" lengthAdjust="spacingAndGlyphs">3</text>
<text x="523.8" y="243.2" font-size="8.2" font-weight="bold" text-anchor="start" fill="#161616" stroke="#161616" stroke-width="0.38" textLength="13.6" lengthAdjust="spacingAndGlyphs">A g</text>
<text x="537.6" y="239.3" font-size="5.4" font-weight="bold" text-anchor="start" fill="#161616" stroke="#161616" stroke-width="0.38" textLength="5.2" lengthAdjust="spacingAndGlyphs">-1</text>
<line x1="492.5" y1="252.24" x2="512.1" y2="252.24" stroke="#3a80e0" stroke-width="1.1"/>
<text x="513.6" y="255.14" font-size="8.2" font-weight="bold" text-anchor="start" fill="#161616" stroke="#161616" stroke-width="0.38" textLength="5" lengthAdjust="spacingAndGlyphs">4</text>
<text x="523.8" y="255.14" font-size="8.2" font-weight="bold" text-anchor="start" fill="#161616" stroke="#161616" stroke-width="0.38" textLength="13.6" lengthAdjust="spacingAndGlyphs">A g</text>
<text x="537.6" y="251.24" font-size="5.4" font-weight="bold" text-anchor="start" fill="#161616" stroke="#161616" stroke-width="0.38" textLength="5.2" lengthAdjust="spacingAndGlyphs">-1</text>
<line x1="492.5" y1="264.18" x2="512.1" y2="264.18" stroke="#f0b020" stroke-width="1.1"/>
<text x="513.6" y="267.08" font-size="8.2" font-weight="bold" text-anchor="start" fill="#161616" stroke="#161616" stroke-width="0.38" textLength="5" lengthAdjust="spacingAndGlyphs">6</text>
<text x="523.8" y="267.08" font-size="8.2" font-weight="bold" text-anchor="start" fill="#161616" stroke="#161616" stroke-width="0.38" textLength="13.6" lengthAdjust="spacingAndGlyphs">A g</text>
<text x="537.6" y="263.18" font-size="5.4" font-weight="bold" text-anchor="start" fill="#161616" stroke="#161616" stroke-width="0.38" textLength="5.2" lengthAdjust="spacingAndGlyphs">-1</text>
<line x1="492.5" y1="276.12" x2="512.1" y2="276.12" stroke="#50e060" stroke-width="1.1"/>
<text x="513.6" y="279.02" font-size="8.2" font-weight="bold" text-anchor="start" fill="#161616" stroke="#161616" stroke-width="0.38" textLength="5" lengthAdjust="spacingAndGlyphs">8</text>
<text x="523.8" y="279.02" font-size="8.2" font-weight="bold" text-anchor="start" fill="#161616" stroke="#161616" stroke-width="0.38" textLength="13.6" lengthAdjust="spacingAndGlyphs">A g</text>
<text x="537.6" y="275.12" font-size="5.4" font-weight="bold" text-anchor="start" fill="#161616" stroke="#161616" stroke-width="0.38" textLength="5.2" lengthAdjust="spacingAndGlyphs">-1</text>
<line x1="492.5" y1="288.06" x2="512.1" y2="288.06" stroke="#7a80c0" stroke-width="1.1"/>
<text x="513.9" y="290.96" font-size="8.2" font-weight="bold" text-anchor="start" fill="#161616" stroke="#161616" stroke-width="0.38" textLength="9.6" lengthAdjust="spacingAndGlyphs">10</text>
<text x="525.8" y="290.96" font-size="8.2" font-weight="bold" text-anchor="start" fill="#161616" stroke="#161616" stroke-width="0.38" textLength="14.2" lengthAdjust="spacingAndGlyphs">A g</text>
<text x="540.3" y="287.06" font-size="5.4" font-weight="bold" text-anchor="start" fill="#161616" stroke="#161616" stroke-width="0.38" textLength="5.2" lengthAdjust="spacingAndGlyphs">-1</text>
<line x1="492.5" y1="300" x2="512.1" y2="300" stroke="#a4acb8" stroke-width="1.1"/>
<text x="513.9" y="302.9" font-size="8.2" font-weight="bold" text-anchor="start" fill="#161616" stroke="#161616" stroke-width="0.38" textLength="9.6" lengthAdjust="spacingAndGlyphs">20</text>
<text x="525.8" y="302.9" font-size="8.2" font-weight="bold" text-anchor="start" fill="#161616" stroke="#161616" stroke-width="0.38" textLength="14.2" lengthAdjust="spacingAndGlyphs">A g</text>
<text x="540.3" y="299" font-size="5.4" font-weight="bold" text-anchor="start" fill="#161616" stroke="#161616" stroke-width="0.38" textLength="5.2" lengthAdjust="spacingAndGlyphs">-1</text>
<rect x="44.9" y="459.8" width="208.15" height="167.8" fill="none" stroke="#161616" stroke-width="1.65"/>
<line x1="44.9" y1="614.8" x2="47.9" y2="614.8" stroke="#161616" stroke-width="1.2"/>
<line x1="44.9" y1="588.88" x2="47.9" y2="588.88" stroke="#161616" stroke-width="1.2"/>
<line x1="44.9" y1="562.96" x2="47.9" y2="562.96" stroke="#161616" stroke-width="1.2"/>
<line x1="44.9" y1="537.04" x2="47.9" y2="537.04" stroke="#161616" stroke-width="1.2"/>
<line x1="44.9" y1="511.12" x2="47.9" y2="511.12" stroke="#161616" stroke-width="1.2"/>
<line x1="44.9" y1="485.2" x2="47.9" y2="485.2" stroke="#161616" stroke-width="1.2"/>
<line x1="44.9" y1="459.28" x2="47.9" y2="459.28" stroke="#161616" stroke-width="1.2"/>
<line x1="44.9" y1="627.76" x2="46.5" y2="627.76" stroke="#161616" stroke-width="1.2"/>
<line x1="44.9" y1="601.84" x2="46.5" y2="601.84" stroke="#161616" stroke-width="1.2"/>
<line x1="44.9" y1="575.92" x2="46.5" y2="575.92" stroke="#161616" stroke-width="1.2"/>
<line x1="44.9" y1="550" x2="46.5" y2="550" stroke="#161616" stroke-width="1.2"/>
<line x1="44.9" y1="524.08" x2="46.5" y2="524.08" stroke="#161616" stroke-width="1.2"/>
<line x1="44.9" y1="498.16" x2="46.5" y2="498.16" stroke="#161616" stroke-width="1.2"/>
<line x1="44.9" y1="472.24" x2="46.5" y2="472.24" stroke="#161616" stroke-width="1.2"/>
<text x="41" y="617" font-size="7.4" font-weight="bold" text-anchor="end" fill="#161616" stroke="#161616" stroke-width="0.38">0</text>
<text x="41" y="591.08" font-size="7.4" font-weight="bold" text-anchor="end" fill="#161616" stroke="#161616" stroke-width="0.38">200</text>
<text x="41" y="565.16" font-size="7.4" font-weight="bold" text-anchor="end" fill="#161616" stroke="#161616" stroke-width="0.38">400</text>
<text x="41" y="539.24" font-size="7.4" font-weight="bold" text-anchor="end" fill="#161616" stroke="#161616" stroke-width="0.38">600</text>
<text x="41" y="513.32" font-size="7.4" font-weight="bold" text-anchor="end" fill="#161616" stroke="#161616" stroke-width="0.38">800</text>
<text x="41" y="487.4" font-size="7.4" font-weight="bold" text-anchor="end" fill="#161616" stroke="#161616" stroke-width="0.38">1000</text>
<text x="41" y="461.48" font-size="7.4" font-weight="bold" text-anchor="end" fill="#161616" stroke="#161616" stroke-width="0.38">1200</text>
<line x1="44.9" y1="627.6" x2="44.9" y2="624.6" stroke="#161616" stroke-width="1.2"/>
<line x1="86.53" y1="627.6" x2="86.53" y2="624.6" stroke="#161616" stroke-width="1.2"/>
<line x1="128.16" y1="627.6" x2="128.16" y2="624.6" stroke="#161616" stroke-width="1.2"/>
<line x1="169.79" y1="627.6" x2="169.79" y2="624.6" stroke="#161616" stroke-width="1.2"/>
<line x1="211.42" y1="627.6" x2="211.42" y2="624.6" stroke="#161616" stroke-width="1.2"/>
<line x1="253.05" y1="627.6" x2="253.05" y2="624.6" stroke="#161616" stroke-width="1.2"/>
<line x1="65.72" y1="627.6" x2="65.72" y2="626" stroke="#161616" stroke-width="1.2"/>
<line x1="107.34" y1="627.6" x2="107.34" y2="626" stroke="#161616" stroke-width="1.2"/>
<line x1="148.97" y1="627.6" x2="148.97" y2="626" stroke="#161616" stroke-width="1.2"/>
<line x1="190.61" y1="627.6" x2="190.61" y2="626" stroke="#161616" stroke-width="1.2"/>
<line x1="232.24" y1="627.6" x2="232.24" y2="626" stroke="#161616" stroke-width="1.2"/>
<text x="44.9" y="637.6" font-size="7.4" font-weight="bold" text-anchor="middle" fill="#161616" stroke="#161616" stroke-width="0.38">0</text>
<text x="86.53" y="637.6" font-size="7.4" font-weight="bold" text-anchor="middle" fill="#161616" stroke="#161616" stroke-width="0.38">20</text>
<text x="128.16" y="637.6" font-size="7.4" font-weight="bold" text-anchor="middle" fill="#161616" stroke="#161616" stroke-width="0.38">40</text>
<text x="169.79" y="637.6" font-size="7.4" font-weight="bold" text-anchor="middle" fill="#161616" stroke="#161616" stroke-width="0.38">60</text>
<text x="211.42" y="637.6" font-size="7.4" font-weight="bold" text-anchor="middle" fill="#161616" stroke="#161616" stroke-width="0.38">80</text>
<text x="253.05" y="637.6" font-size="7.4" font-weight="bold" text-anchor="middle" fill="#161616" stroke="#161616" stroke-width="0.38">100</text>
<line x1="55.31" y1="477.42" x2="65.72" y2="538.34" stroke="#7a8288" stroke-width="0.9" stroke-dasharray="1.2,1.2"/>
<line x1="65.72" y1="538.34" x2="86.53" y2="561.66" stroke="#7a8288" stroke-width="0.9"/>
<line x1="86.53" y1="561.66" x2="128.16" y2="585.64" stroke="#7a8288" stroke-width="0.9"/>
<line x1="128.16" y1="585.64" x2="169.79" y2="596.66" stroke="#7a8288" stroke-width="0.9" stroke-dasharray="1.2,1.2"/>
<line x1="169.79" y1="596.66" x2="211.42" y2="602.1" stroke="#7a8288" stroke-width="0.9" stroke-dasharray="2.5,1.5"/>
<line x1="211.42" y1="602.1" x2="253.05" y2="604.82" stroke="#7a8288" stroke-width="0.9" stroke-dasharray="3,1.5"/>
<rect x="53.71" y="475.82" width="3.2" height="3.2" fill="#111"/>
<rect x="64.12" y="536.74" width="3.2" height="3.2" fill="#111"/>
<rect x="84.93" y="560.06" width="3.2" height="3.2" fill="#111"/>
<rect x="126.56" y="584.04" width="3.2" height="3.2" fill="#111"/>
<rect x="168.19" y="595.06" width="3.2" height="3.2" fill="#111"/>
<rect x="209.82" y="600.5" width="3.2" height="3.2" fill="#111"/>
<rect x="251.45" y="603.22" width="3.2" height="3.2" fill="#111"/>
<text x="6.4" y="466.6" font-size="11.1" font-weight="bold" text-anchor="start" fill="#161616" stroke="#161616" stroke-width="0.38" textLength="14.5" lengthAdjust="spacingAndGlyphs">(e)</text>
<g transform="translate(19,559.9) rotate(-90)">
<text x="0" y="0" font-size="10" font-weight="bold" fill="#161616" stroke="#161616" stroke-width="0.35" textLength="22.5" lengthAdjust="spacingAndGlyphs">C (F g</text>
<text x="23" y="-4.6" font-size="6.5" font-weight="bold" fill="#161616" stroke="#161616" stroke-width="0.35" textLength="5.3" lengthAdjust="spacingAndGlyphs">-1</text>
<text x="28" y="0" font-size="10" font-weight="bold" fill="#161616" stroke="#161616" stroke-width="0.35" textLength="4.6" lengthAdjust="spacingAndGlyphs">)</text>
</g>
<text x="89.4" y="655.8" font-size="10.6" font-weight="bold" text-anchor="start" fill="#161616" stroke="#161616" stroke-width="0.38" textLength="110.4" lengthAdjust="spacingAndGlyphs">Potential scan rate(mV s</text>
<text x="200.3" y="650" font-size="5.8" font-weight="bold" text-anchor="start" fill="#161616" stroke="#161616" stroke-width="0.38" textLength="5.2" lengthAdjust="spacingAndGlyphs">-1</text>
<text x="205.3" y="655.8" font-size="10.6" font-weight="bold" text-anchor="start" fill="#161616" stroke="#161616" stroke-width="0.38" textLength="4.2" lengthAdjust="spacingAndGlyphs">)</text>
<rect x="160.9" y="483.4" width="58.6" height="13.5" fill="#fff" stroke="#b4bcc4" stroke-width="0.9"/>
<line x1="162.5" y1="489.9" x2="181.1" y2="489.9" stroke="#b8c0c8" stroke-width="0.9"/>
<rect x="170.4" y="488.4" width="3.3" height="3.2" fill="#111"/>
<text x="184.4" y="494.1" font-size="6.6" font-weight="bold" text-anchor="start" fill="#161616" stroke="#161616" stroke-width="0.38" textLength="4.4" lengthAdjust="spacingAndGlyphs">α</text>
<text x="188.6" y="494.1" font-size="8.2" font-weight="bold" text-anchor="start" fill="#161616" stroke="#161616" stroke-width="0.38" textLength="22.4" lengthAdjust="spacingAndGlyphs">-Ni(OH)</text>
<text x="211.3" y="495.8" font-size="5.4" font-weight="bold" text-anchor="start" fill="#161616" stroke="#161616" stroke-width="0.38" textLength="3.4" lengthAdjust="spacingAndGlyphs">2</text>
<text x="238.8" y="620.2" font-size="7.8" font-weight="bold" text-anchor="start" fill="#161616" stroke="#161616" stroke-width="0.38" textLength="10.5" lengthAdjust="spacingAndGlyphs">(e)</text>
<rect x="350.3" y="459.8" width="208.1" height="167.6" fill="none" stroke="#161616" stroke-width="1.65"/>
<line x1="350.3" y1="627.4" x2="353.3" y2="627.4" stroke="#161616" stroke-width="1.2"/>
<line x1="350.3" y1="595.24" x2="353.3" y2="595.24" stroke="#161616" stroke-width="1.2"/>
<line x1="350.3" y1="563.08" x2="353.3" y2="563.08" stroke="#161616" stroke-width="1.2"/>
<line x1="350.3" y1="530.92" x2="353.3" y2="530.92" stroke="#161616" stroke-width="1.2"/>
<line x1="350.3" y1="498.76" x2="353.3" y2="498.76" stroke="#161616" stroke-width="1.2"/>
<line x1="350.3" y1="466.6" x2="353.3" y2="466.6" stroke="#161616" stroke-width="1.2"/>
<line x1="350.3" y1="611.32" x2="351.9" y2="611.32" stroke="#161616" stroke-width="1.2"/>
<line x1="350.3" y1="579.16" x2="351.9" y2="579.16" stroke="#161616" stroke-width="1.2"/>
<line x1="350.3" y1="547" x2="351.9" y2="547" stroke="#161616" stroke-width="1.2"/>
<line x1="350.3" y1="514.84" x2="351.9" y2="514.84" stroke="#161616" stroke-width="1.2"/>
<line x1="350.3" y1="482.68" x2="351.9" y2="482.68" stroke="#161616" stroke-width="1.2"/>
<text x="346.3" y="629.6" font-size="7.4" font-weight="bold" text-anchor="end" fill="#161616" stroke="#161616" stroke-width="0.38">500</text>
<text x="346.3" y="597.44" font-size="7.4" font-weight="bold" text-anchor="end" fill="#161616" stroke="#161616" stroke-width="0.38">1000</text>
<text x="346.3" y="565.28" font-size="7.4" font-weight="bold" text-anchor="end" fill="#161616" stroke="#161616" stroke-width="0.38">1500</text>
<text x="346.3" y="533.12" font-size="7.4" font-weight="bold" text-anchor="end" fill="#161616" stroke="#161616" stroke-width="0.38">2000</text>
<text x="346.3" y="500.96" font-size="7.4" font-weight="bold" text-anchor="end" fill="#161616" stroke="#161616" stroke-width="0.38">2500</text>
<text x="346.3" y="468.8" font-size="7.4" font-weight="bold" text-anchor="end" fill="#161616" stroke="#161616" stroke-width="0.38">3000</text>
<line x1="350.3" y1="627.4" x2="350.3" y2="624.4" stroke="#161616" stroke-width="1.2"/>
<line x1="369.22" y1="627.4" x2="369.22" y2="624.4" stroke="#161616" stroke-width="1.2"/>
<line x1="388.14" y1="627.4" x2="388.14" y2="624.4" stroke="#161616" stroke-width="1.2"/>
<line x1="407.05" y1="627.4" x2="407.05" y2="624.4" stroke="#161616" stroke-width="1.2"/>
<line x1="425.97" y1="627.4" x2="425.97" y2="624.4" stroke="#161616" stroke-width="1.2"/>
<line x1="444.89" y1="627.4" x2="444.89" y2="624.4" stroke="#161616" stroke-width="1.2"/>
<line x1="463.81" y1="627.4" x2="463.81" y2="624.4" stroke="#161616" stroke-width="1.2"/>
<line x1="482.73" y1="627.4" x2="482.73" y2="624.4" stroke="#161616" stroke-width="1.2"/>
<line x1="501.64" y1="627.4" x2="501.64" y2="624.4" stroke="#161616" stroke-width="1.2"/>
<line x1="520.56" y1="627.4" x2="520.56" y2="624.4" stroke="#161616" stroke-width="1.2"/>
<line x1="539.48" y1="627.4" x2="539.48" y2="624.4" stroke="#161616" stroke-width="1.2"/>
<line x1="558.4" y1="627.4" x2="558.4" y2="624.4" stroke="#161616" stroke-width="1.2"/>
<line x1="359.76" y1="627.4" x2="359.76" y2="625.8" stroke="#161616" stroke-width="1.2"/>
<line x1="378.68" y1="627.4" x2="378.68" y2="625.8" stroke="#161616" stroke-width="1.2"/>
<line x1="397.6" y1="627.4" x2="397.6" y2="625.8" stroke="#161616" stroke-width="1.2"/>
<line x1="416.51" y1="627.4" x2="416.51" y2="625.8" stroke="#161616" stroke-width="1.2"/>
<line x1="435.43" y1="627.4" x2="435.43" y2="625.8" stroke="#161616" stroke-width="1.2"/>
<line x1="454.35" y1="627.4" x2="454.35" y2="625.8" stroke="#161616" stroke-width="1.2"/>
<line x1="473.27" y1="627.4" x2="473.27" y2="625.8" stroke="#161616" stroke-width="1.2"/>
<line x1="492.19" y1="627.4" x2="492.19" y2="625.8" stroke="#161616" stroke-width="1.2"/>
<line x1="511.1" y1="627.4" x2="511.1" y2="625.8" stroke="#161616" stroke-width="1.2"/>
<line x1="530.02" y1="627.4" x2="530.02" y2="625.8" stroke="#161616" stroke-width="1.2"/>
<line x1="548.94" y1="627.4" x2="548.94" y2="625.8" stroke="#161616" stroke-width="1.2"/>
<text x="350.3" y="637.2" font-size="7.4" font-weight="bold" text-anchor="middle" fill="#161616" stroke="#161616" stroke-width="0.38">0</text>
<text x="369.22" y="637.2" font-size="7.4" font-weight="bold" text-anchor="middle" fill="#161616" stroke="#161616" stroke-width="0.38">2</text>
<text x="388.14" y="637.2" font-size="7.4" font-weight="bold" text-anchor="middle" fill="#161616" stroke="#161616" stroke-width="0.38">4</text>
<text x="407.05" y="637.2" font-size="7.4" font-weight="bold" text-anchor="middle" fill="#161616" stroke="#161616" stroke-width="0.38">6</text>
<text x="425.97" y="637.2" font-size="7.4" font-weight="bold" text-anchor="middle" fill="#161616" stroke="#161616" stroke-width="0.38">8</text>
<text x="444.89" y="637.2" font-size="7.4" font-weight="bold" text-anchor="middle" fill="#161616" stroke="#161616" stroke-width="0.38">10</text>
<text x="463.81" y="637.2" font-size="7.4" font-weight="bold" text-anchor="middle" fill="#161616" stroke="#161616" stroke-width="0.38">12</text>
<text x="482.73" y="637.2" font-size="7.4" font-weight="bold" text-anchor="middle" fill="#161616" stroke="#161616" stroke-width="0.38">14</text>
<text x="501.64" y="637.2" font-size="7.4" font-weight="bold" text-anchor="middle" fill="#161616" stroke="#161616" stroke-width="0.38">16</text>
<text x="520.56" y="637.2" font-size="7.4" font-weight="bold" text-anchor="middle" fill="#161616" stroke="#161616" stroke-width="0.38">18</text>
<text x="539.48" y="637.2" font-size="7.4" font-weight="bold" text-anchor="middle" fill="#161616" stroke="#161616" stroke-width="0.38">20</text>
<text x="558.4" y="637.2" font-size="7.4" font-weight="bold" text-anchor="middle" fill="#161616" stroke="#161616" stroke-width="0.38">22</text>
<polyline points="378.68,471.75 388.14,506.16 407.05,525.13 425.97,540.31 444.89,548.16 539.48,586.11" fill="none" stroke="#6a7278" stroke-width="0.9"/>
<circle cx="378.68" cy="471.75" r="2.0" fill="#222" stroke="#111" stroke-width="0.5"/>
<circle cx="388.14" cy="506.16" r="2.0" fill="#222" stroke="#111" stroke-width="0.5"/>
<circle cx="407.05" cy="525.13" r="2.0" fill="#222" stroke="#111" stroke-width="0.5"/>
<circle cx="425.97" cy="540.31" r="2.0" fill="#222" stroke="#111" stroke-width="0.5"/>
<circle cx="444.89" cy="548.16" r="2.0" fill="#222" stroke="#111" stroke-width="0.5"/>
<circle cx="539.48" cy="586.11" r="2.0" fill="#222" stroke="#111" stroke-width="0.5"/>
<text x="308.9" y="466.6" font-size="11.1" font-weight="bold" text-anchor="start" fill="#161616" stroke="#161616" stroke-width="0.38" textLength="11.3" lengthAdjust="spacingAndGlyphs">(f)</text>
<g transform="translate(320,559.9) rotate(-90)">
<text x="0" y="0" font-size="10" font-weight="bold" fill="#161616" stroke="#161616" stroke-width="0.35" textLength="20.5" lengthAdjust="spacingAndGlyphs">C(F g</text>
<text x="21.9" y="-5.2" font-size="7.5" font-weight="bold" fill="#161616" stroke="#161616" stroke-width="0.35" textLength="6.8" lengthAdjust="spacingAndGlyphs">-1</text>
<text x="28.9" y="0" font-size="10" font-weight="bold" fill="#161616" stroke="#161616" stroke-width="0.35" textLength="4.4" lengthAdjust="spacingAndGlyphs">)</text>
</g>
<text x="404.5" y="657" font-size="10.3" font-weight="bold" text-anchor="start" fill="#161616" stroke="#161616" stroke-width="0.38" textLength="88.9" lengthAdjust="spacingAndGlyphs">Current density(A g</text>
<text x="493.8" y="651.3" font-size="7.6" font-weight="bold" text-anchor="start" fill="#161616" stroke="#161616" stroke-width="0.38" textLength="6.8" lengthAdjust="spacingAndGlyphs">-1</text>
<text x="500.4" y="657" font-size="10.3" font-weight="bold" text-anchor="start" fill="#161616" stroke="#161616" stroke-width="0.38" textLength="3.8" lengthAdjust="spacingAndGlyphs">)</text>
<line x1="476.3" y1="483.3" x2="494.8" y2="483.3" stroke="#7a8288" stroke-width="0.9"/>
<circle cx="485.6" cy="483.3" r="1.8" fill="#222"/>
<text x="497.8" y="486.3" font-size="7.8" font-weight="bold" text-anchor="start" fill="#161616" stroke="#161616" stroke-width="0.38" textLength="35.8" lengthAdjust="spacingAndGlyphs">a-Ni(OH)</text>
<text x="533.8" y="488" font-size="5.6" font-weight="bold" text-anchor="start" fill="#161616" stroke="#161616" stroke-width="0.38" textLength="3.2" lengthAdjust="spacingAndGlyphs">2</text>
<text x="535.6" y="614" font-size="8" font-weight="bold" text-anchor="start" fill="#161616" stroke="#161616" stroke-width="0.38" textLength="8.8" lengthAdjust="spacingAndGlyphs">(f)</text>
</svg></body></html>
